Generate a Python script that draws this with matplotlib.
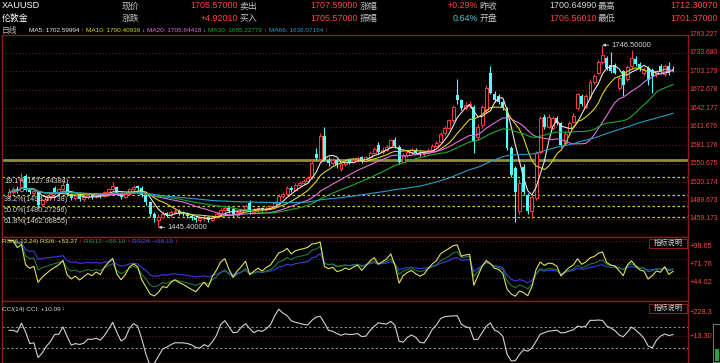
import numpy as np
import pandas as pd
import matplotlib
matplotlib.use("Agg")
import matplotlib.pyplot as plt

plt.rcParams["font.family"] = ["Liberation Sans", "Noto Sans CJK SC", "DejaVu Sans"]
CJK = ["Noto Sans CJK SC", "DejaVu Sans"]
LAT = ["Liberation Sans", "DejaVu Sans"]

# ---------------- data (daily XAUUSD) ----------------
opens = [1497, 1503, 1509, 1506, 1530, 1507, 1502, 1504, 1484, 1490, 1495, 1510, 1504, 1508, 1517, 1500, 1494, 1498,
         1492, 1495, 1499, 1496, 1500, 1497, 1503, 1508, 1512, 1502, 1496, 1500, 1508, 1513, 1511, 1498, 1487, 1468,
         1458, 1463, 1469, 1466, 1470, 1473, 1470, 1468, 1464, 1461, 1457, 1460, 1462, 1458, 1463, 1467, 1474, 1478,
         1476, 1466, 1471, 1475, 1486, 1471, 1474, 1477, 1475, 1478, 1480, 1484, 1497, 1500, 1511, 1507, 1515, 1519, 1522,
         1528, 1566, 1558, 1596, 1557, 1552, 1556, 1542, 1550, 1556, 1553, 1557, 1561, 1555, 1561, 1569, 1582, 1570,
         1574, 1578, 1590, 1578, 1554, 1565, 1570, 1574, 1569, 1566, 1568, 1574, 1580, 1586, 1601, 1610, 1622,
         1664, 1655, 1643, 1646, 1645, 1594, 1614, 1640, 1701, 1666, 1662, 1653, 1640, 1577, 1543, 1472, 1545, 1499,
         1472, 1494, 1570,
         1628, 1612, 1610, 1626, 1618, 1585, 1603, 1620, 1643, 1662, 1645, 1661, 1686, 1701, 1718, 1726, 1714, 1714,
         1676, 1703, 1690, 1712, 1724, 1716, 1700, 1709, 1705, 1698, 1712, 1698, 1712, 1706.56]
highs = [1510, 1512, 1513, 1535, 1533, 1510, 1509, 1506, 1494, 1498, 1503, 1513, 1511, 1522, 1519, 1502, 1500, 1500,
         1498, 1501, 1501, 1502, 1502, 1506, 1511, 1521, 1514, 1504, 1503, 1511, 1516, 1516, 1513, 1500, 1489, 1471,
         1468, 1472, 1471, 1474, 1476, 1475, 1472, 1470, 1467, 1464, 1463, 1465, 1464, 1466, 1470, 1477, 1481, 1480,
         1479, 1474, 1478, 1484, 1490, 1477, 1479, 1479, 1481, 1483, 1489, 1500, 1503, 1513, 1513, 1518, 1522, 1525, 1530,
         1556, 1576, 1602, 1612, 1562, 1560, 1558, 1553, 1558, 1558, 1560, 1563, 1563, 1564, 1572, 1578, 1587, 1578,
         1581, 1592, 1594, 1581, 1568, 1573, 1576, 1576, 1572, 1571, 1577, 1583, 1588, 1603, 1613, 1625, 1648,
         1690, 1658, 1652, 1654, 1648, 1616, 1648, 1680, 1712, 1670, 1666, 1656, 1644, 1580, 1546, 1525, 1550, 1502,
         1499, 1572, 1630,
         1632, 1632, 1630, 1629, 1620, 1604, 1621, 1634, 1668, 1665, 1665, 1690, 1698, 1722, 1746.5, 1729, 1735, 1717,
         1695, 1706, 1713, 1738, 1728, 1719, 1710, 1712, 1708, 1706, 1716, 1716, 1718, 1712.3]
lows = [1493, 1500, 1502, 1504, 1505, 1500, 1499, 1478, 1481, 1487, 1492, 1501, 1500, 1506, 1497, 1490, 1491, 1489,
        1489, 1493, 1493, 1494, 1494, 1495, 1501, 1506, 1499, 1493, 1494, 1498, 1505, 1507, 1495, 1483, 1463, 1454,
        1445.4, 1460, 1462, 1463, 1467, 1465, 1464, 1461, 1458, 1455, 1454, 1456, 1455, 1456, 1460, 1465, 1471, 1469,
        1462, 1463, 1469, 1472, 1467, 1468, 1471, 1472, 1473, 1475, 1478, 1482, 1494, 1498, 1504, 1505, 1512, 1516, 1519,
        1526, 1556, 1555, 1555, 1546, 1549, 1544, 1538, 1547, 1550, 1551, 1554, 1552, 1553, 1559, 1566, 1566, 1567,
        1571, 1576, 1576, 1550, 1551, 1562, 1567, 1566, 1563, 1563, 1566, 1572, 1578, 1584, 1598, 1608, 1619,
        1650, 1640, 1640, 1643, 1568, 1590, 1610, 1634, 1665, 1652, 1650, 1640, 1574, 1528, 1454, 1468, 1500, 1468,
        1461, 1490, 1566,
        1608, 1609, 1606, 1615, 1578, 1582, 1600, 1617, 1640, 1646, 1642, 1658, 1683, 1698, 1715, 1706, 1700, 1698,
        1672, 1662, 1688, 1709, 1712, 1704, 1697, 1680, 1668, 1694, 1699, 1695, 1697, 1701.37]
closes = [1503, 1508, 1505, 1524, 1507, 1503, 1506, 1483, 1490, 1495, 1500, 1504, 1508, 1515, 1500, 1494, 1497, 1492,
          1495, 1498, 1496, 1499, 1497, 1503, 1508, 1513, 1502, 1496, 1500, 1508, 1512, 1510, 1498, 1487, 1468, 1460,
          1463, 1468, 1466, 1470, 1472, 1469, 1467, 1464, 1461, 1458, 1460, 1462, 1458, 1463, 1467, 1474, 1478, 1472,
          1466, 1471, 1475, 1481, 1471, 1474, 1477, 1475, 1478, 1480, 1486, 1497, 1500, 1510, 1507, 1515, 1519, 1522, 1527,
          1552, 1560, 1596, 1557, 1552, 1556, 1548, 1550, 1555, 1553, 1557, 1560, 1555, 1561, 1569, 1575, 1570, 1574,
          1578, 1589, 1580, 1554, 1565, 1570, 1573, 1569, 1566, 1568, 1574, 1580, 1585, 1600, 1610, 1622, 1645,
          1655, 1643, 1648, 1650, 1588, 1612, 1645, 1676, 1668, 1656, 1653, 1643, 1577, 1532, 1504, 1518, 1504, 1472,
          1496, 1568, 1626,
          1611, 1628, 1626, 1618, 1582, 1600, 1618, 1630, 1665, 1650, 1662, 1686, 1695, 1719, 1731, 1709, 1703, 1701,
          1692, 1681, 1710, 1726, 1716, 1708, 1706, 1689, 1695, 1704, 1702, 1712, 1700.65, 1705.57]

ma_periods = [5, 10, 20, 30, 66]
ma_colors = ["#e6e6e6", "#d8d820", "#e070e0", "#20a830", "#2a9cc8"]
price_ticks = [1763.227, 1733.680, 1703.179, 1672.678, 1642.177, 1611.676, 1581.176, 1550.675, 1520.174,
               1489.673, 1459.173]
fib_zero = 1557.4103
fib_levels = [1527.94384, 1498.47738, 1480.27296, 1462.06855]
fib_labels = ["19.1%(1527.94384)", "38.2%(1498.47738)", "50.0%(1480.27296)", "61.8%(1462.06855)"]
rsi_ticks = [98.65, 71.76, 44.02]
cci_ticks = [228.3, 13.30]

BG = "black"
BORDER = "#8a1c1c"
GRID = "#702020"
UP = "#ff3c3c"
DOWN = "#54fcfc"
TXT_RED = "#ff4646"
GRAY = "#c4c4c4"

# ---------------- layout in screen pixels ----------------
W, H = 720, 363
X0, DX = 9, 4.15


def box(x0, y0, x1, y1):
    return [x0 / W, 1 - y1 / H, (x1 - x0) / W, (y1 - y0) / H]


def xi(px):
    return (px - X0) / DX


fig = plt.figure(figsize=(7.2, 3.63), dpi=100, facecolor=BG)
renderer = fig.canvas.get_renderer()
ax = fig.add_axes(box(2, 35, 688, 236.7))
ax_rsi = fig.add_axes(box(2, 236.7, 688, 301))
ax_cci = fig.add_axes(box(2, 301, 688, 363))
for a in (ax, ax_rsi, ax_cci):
    a.set_facecolor(BG)
    a.set_xlim(xi(2), xi(688))
    a.set_xticks([]); a.set_yticks([])
    for s in a.spines.values():
        s.set_color(BORDER); s.set_linewidth(1.0)

AXIS_FS = 4.9
LAB_X = 1 + 1.5 / 686

# ---------------- main price panel ----------------
ax.set_ylim(1429.9, 1763.227)
o, h, l, c = map(np.array, (opens, highs, lows, closes))
idx = np.arange(len(c))
up = c >= o
for v in price_ticks[1:]:
    ax.axhline(v, color=GRID, lw=0.8, ls=(0, (1, 2)), zorder=1)
ax.axhline(fib_zero, color="#8f8f3a", lw=2.0, zorder=2)
for v, lab in zip(fib_levels, fib_labels):
    ax.axhline(v, color="#c8c83a", lw=0.9, ls=(0, (2, 2)), zorder=2)
    ax.text(xi(4), v - 1.5, lab, color="#d8d8d8", fontsize=5.2, family=LAT,
            va="top", ha="left", zorder=7)

ax.vlines(idx[up], l[up], h[up], color=UP, lw=0.8, zorder=3)
ax.vlines(idx[~up], l[~up], h[~up], color=DOWN, lw=0.8, zorder=3)
ax.bar(idx[up], np.maximum(c[up] - o[up], 0.6), bottom=o[up], width=0.72,
       facecolor="black", edgecolor=UP, lw=0.7, zorder=4)
ax.bar(idx[~up], np.maximum(o[~up] - c[~up], 0.6), bottom=c[~up], width=0.72,
       color=DOWN, lw=0, zorder=4)

cs = pd.Series(c)
for n, col in zip(ma_periods, ma_colors):
    ax.plot(idx, cs.rolling(n, min_periods=1).mean(), color=col, lw=0.8, zorder=5)

ih, il = int(np.argmax(h)), int(np.argmin(l))
for i, v in ((ih, h[ih]), (il, l[il])):
    ax.annotate(f"{v:.5f}", xy=(i, v), xytext=(9, 0), textcoords="offset pixels",
                ha="left", va="center", fontsize=5.4, family=LAT, color="#d8d8d8", zorder=8,
                arrowprops=dict(arrowstyle="-|>", color="#d8d8d8", lw=0.6,
                                mutation_scale=4, shrinkA=0, shrinkB=0))

ytr = ax.get_yaxis_transform()
for v in price_ticks:
    ax.text(LAB_X, v, f"{v:.3f}", transform=ytr, color=TXT_RED, fontsize=AXIS_FS,
            family=LAT, va="center", ha="left", clip_on=False)

# ---------------- RSI panel ----------------
d = cs.diff()
rsi = {}
for n in (6, 12, 24):
    g = d.clip(lower=0).ewm(alpha=1 / n, adjust=False).mean()
    a_ = d.abs().ewm(alpha=1 / n, adjust=False).mean()
    rsi[n] = (g / a_ * 100).bfill()
ax_rsi.set_ylim(8.9, 105.8)
for v in rsi_ticks:
    ax_rsi.axhline(v, color=GRID, lw=0.8, ls=(0, (1, 2)), zorder=1)
ax_rsi.plot(idx, rsi[24], color="#3c3cdc", lw=0.8, zorder=3)
ax_rsi.plot(idx, rsi[12], color="#1e7a3c", lw=0.8, zorder=4)
ax_rsi.plot(idx, rsi[6], color="#e0e060", lw=0.8, zorder=5)
rtr = ax_rsi.get_yaxis_transform()
for v in rsi_ticks:
    ax_rsi.text(LAB_X, v - 2.5, f"+{v:.2f}", transform=rtr, color=TXT_RED, fontsize=AXIS_FS + 0.4,
                family=LAT, va="top", ha="left", clip_on=False)

# ---------------- CCI panel ----------------
tp = (pd.Series(h) + pd.Series(l) + cs) / 3
ma_tp = tp.rolling(14, min_periods=1).mean()
md = tp.rolling(14, min_periods=1).apply(lambda s: np.mean(np.abs(s - s.mean())), raw=True)
cci = ((tp - ma_tp) / (0.015 * md)).replace([np.inf, -np.inf], np.nan).bfill()
ax_cci.set_ylim(-236, 338)
for v in (100, -100):
    ax_cci.axhline(v, color="#8c8c8c", lw=0.8, ls=(0, (2, 2)), zorder=1)
ax_cci.axhline(cci_ticks[1], color=GRID, lw=0.8, ls=(0, (1, 2)), zorder=1)
ax_cci.plot(idx, cci, color="#d2d2d2", lw=0.8, zorder=3)
ctr = ax_cci.get_yaxis_transform()
for v in cci_ticks:
    ax_cci.text(LAB_X, v, f"+{v:.1f}" if v > 100 else f"+{v:.2f}", transform=ctr,
                color=TXT_RED, fontsize=AXIS_FS + 0.4, family=LAT, va="center", ha="left",
                clip_on=False)


# ---------------- header texts ----------------
def t(x, y, s, color, size=6.4, ha="left", fam=None):
    return fig.text(x / W, 1 - y / H, s, color=color, fontsize=size, ha=ha, va="center",
                    family=fam if fam else plt.rcParams["font.family"])


def chain(x, y, pieces, size, gap=3.0):
    # pieces: (text, colour, arrow, arrow colour); each item follows the previous one
    for s, col, arr, acol in pieces:
        txt = t(x, y, s, col, size, fam=LAT)
        x = txt.get_window_extent(renderer).x1 + 0.5
        at = t(x, y, arr, acol, size, fam=LAT)
        x = at.get_window_extent(renderer).x1 + gap


t(2, 6, "XAUUSD", "white", 6.6)
t(2, 18.5, "伦敦金", "white", 6.4, fam=CJK)
for x, s in ((122, "现价"), (239, "卖出"), (360, "涨幅"), (479, "昨收"), (598, "最高")):
    t(x, 6, s, GRAY, 6.4, fam=CJK)
for x, s in ((122, "涨跌"), (239, "买入"), (360, "振幅"), (479, "开盘"), (598, "最低")):
    t(x, 18.5, s, GRAY, 6.4, fam=CJK)
t(238, 6, "1705.57000", TXT_RED, ha="right")
t(358, 6, "1707.59000", TXT_RED, ha="right")
t(478, 6, "+0.29%", TXT_RED, ha="right")
t(597, 6, "1700.64990", "#d8d8d8", ha="right")
t(718, 6, "1712.30070", TXT_RED, ha="right")
t(238, 18.5, "+4.92010", TXT_RED, ha="right")
t(358, 18.5, "1705.57000", TXT_RED, ha="right")
t(478, 18.5, "0.64%", "#46d2d2", ha="right")
t(597, 18.5, "1706.56010", TXT_RED, ha="right")
t(718, 18.5, "1701.37000", TXT_RED, ha="right")

t(2, 30.5, "日线", GRAY, 5.6, fam=CJK)
ma_texts = ["MA5: 1702.59994", "MA10: 1700.40939", "MA20: 1705.64418", "MA30: 1685.22779", "MA66: 1638.07154"]
ma_arrows = [("↑", UP), ("↓", DOWN), ("↓", DOWN), ("↑", UP), ("↑", UP)]
chain(29, 30.5, [(s, col, a, ac) for s, col, (a, ac) in zip(ma_texts, ma_colors, ma_arrows)], 4.6)

chain(2, 241.5, [("RSI(6,12,24) RSI6: +53.27", "#e0e060", "↑", UP),
                 ("RSI12: +55.10", "#2a9a4a", "↑", UP),
                 ("RSI24: +56.15", "#5050ff", "↑", UP)], 4.6)
chain(2, 309, [("CCI(14) CCI: +10.09", "#d8d8d8", "↓", DOWN)], 4.6)

for y0 in (239, 304):
    fig.patches.append(plt.Rectangle((649 / W, 1 - (y0 + 8.5) / H), 38 / W, 8.5 / H,
                                     transform=fig.transFigure, facecolor="black",
                                     edgecolor=BORDER, lw=0.8, zorder=9))
    fig.text(668 / W, 1 - (y0 + 4.3) / H, "指标说明", color="#d8d8d8", fontsize=5.2,
             ha="center", va="center", family=CJK, zorder=10)

# small status icon at the bottom-right corner
fig.patches.append(plt.Rectangle((713 / W, 1 - 362 / H), 7 / W, 38 / H, transform=fig.transFigure,
                                 facecolor="black", edgecolor="#707070", lw=0.8, zorder=9))
fig.patches.append(plt.Rectangle((714.5 / W, 1 - 361 / H), 4.5 / W, 12 / H, transform=fig.transFigure,
                                 facecolor="#2e9e3e", edgecolor="none", zorder=10))

fig.savefig("out.png", dpi=100, facecolor=BG)
